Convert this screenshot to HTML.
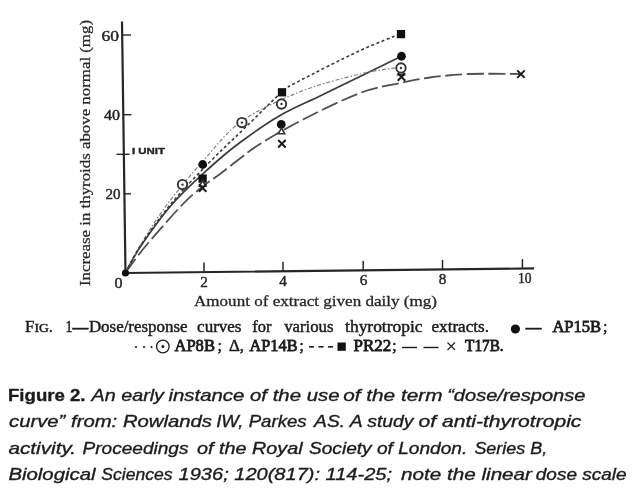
<!DOCTYPE html>
<html><head><meta charset="utf-8"><style>
html,body{margin:0;padding:0;background:#fff;width:640px;height:497px;overflow:hidden}
svg{display:block;filter:blur(0.7px)}
</style></head><body>
<svg width="640" height="497" viewBox="0 0 640 497">
<rect width="640" height="497" fill="#fff"/>
<g stroke="#262626" stroke-width="2.2" fill="none" stroke-linecap="butt">
<path d="M122,21.5 L125.5,273 L534,268.4"/>
<path d="M122.2,35L131,35" stroke-width="1.4"/>
<path d="M123.3,114.7L131.5,114.7" stroke-width="1.4"/>
<path d="M124.4,193.8L131,193.8" stroke-width="1.4"/>
<path d="M116.6,154.3L129.5,154.3" stroke-width="1.4"/>
<path d="M204,272.1L204,262.6" stroke-width="1.5"/>
<path d="M283,271.2L283,261.7" stroke-width="1.5"/>
<path d="M363.2,270.5L363.2,261.0" stroke-width="1.5"/>
<path d="M442.5,269.4L442.5,259.9" stroke-width="1.5"/>
<path d="M522.4,268.6L522.4,259.1" stroke-width="1.5"/>
</g>
<path d="M125.5,272.5 C129.0,267.9 137.1,256.2 146.5,245.0 C155.9,233.8 172.8,214.7 182.0,205.0 C191.2,195.3 195.7,192.2 202.0,187.0 C208.3,181.8 213.7,178.8 220.0,174.0 C226.3,169.2 233.3,163.5 240.0,158.5 C246.7,153.5 249.5,150.5 260.0,144.0 C270.5,137.5 286.3,128.0 303.0,119.5 C319.7,111.0 343.8,99.1 360.0,93.0 C376.2,86.9 388.3,85.6 400.0,83.0 C411.7,80.4 418.3,79.0 430.0,77.5 C441.7,76.0 454.8,74.6 470.0,74.0 C485.2,73.4 512.5,74.0 521.0,74.0" fill="none" stroke="#505050" stroke-width="1.8" stroke-dasharray="17 4.5"/>
<path d="M125.5,272.5 C128.2,267.9 133.8,256.2 141.5,245.0 C149.2,233.8 160.3,217.8 171.5,205.0 C182.7,192.2 197.4,178.9 208.8,168.5 C220.2,158.1 228.1,151.3 240.0,142.5 C251.9,133.7 266.7,123.2 280.0,115.5 C293.3,107.8 306.7,102.5 320.0,96.0 C333.3,89.5 346.4,83.1 360.0,76.5 C373.6,69.9 394.6,59.6 401.5,56.2" fill="none" stroke="#3a3a3a" stroke-width="1.7"/>
<path d="M125.5,272.5 C128.0,267.9 133.8,256.1 140.5,245.0 C147.2,233.9 155.4,220.2 166.0,206.0 C176.6,191.8 191.6,173.7 204.3,159.5 C217.0,145.3 226.1,132.3 242.0,121.0 C257.9,109.7 280.3,99.6 300.0,91.8 C319.7,84.0 343.2,78.1 360.0,74.0 C376.8,69.9 394.2,68.2 401.0,67.0" fill="none" stroke="#808080" stroke-width="1.2" stroke-dasharray="4 2 1.5 2"/>
<path d="M125.5,272.5 C128.1,267.9 133.6,256.2 141.0,245.0 C148.4,233.8 158.7,218.7 170.0,205.0 C181.3,191.3 196.2,175.9 208.8,163.0 C221.4,150.1 233.1,139.3 245.3,127.5 C257.5,115.7 272.9,99.8 282.0,92.0 C291.1,84.2 287.0,87.5 300.0,80.6 C313.0,73.7 343.2,58.4 360.0,50.6 C376.8,42.8 394.2,36.6 401.0,33.8" fill="none" stroke="#3a3a3a" stroke-width="1.6" stroke-dasharray="3 2.5"/>
<g fill="#111" stroke="none">
<circle cx="125.5" cy="273" r="3.6"/>
<circle cx="202.7" cy="164.5" r="4.4"/>
<circle cx="281.25" cy="124.4" r="4.4"/>
<circle cx="401.5" cy="56.25" r="4.4"/>
<rect x="198.45" y="174.45" width="8.3" height="8.3"/>
<rect x="277.85" y="88.14999999999999" width="8.3" height="8.3"/>
<rect x="396.85" y="29.950000000000003" width="8.3" height="8.3"/>
</g>
<path d="M281.5,128.1226L284.75,133.7516L278.25,133.7516Z" fill="#fff" stroke="#333" stroke-width="1.5"/>
<path d="M202.6,180.6226L205.85,186.2516L199.35,186.2516Z" fill="#fff" stroke="#333" stroke-width="1.5"/>
<path d="M401,69.1226L404.25,74.7516L397.75,74.7516Z" fill="#fff" stroke="#333" stroke-width="1.5"/>
<g stroke="#1a1a1a" stroke-width="2" fill="none">
<path d="M198.85,184.25L206.35,191.75M206.35,184.25L198.85,191.75" />
<path d="M278.15,140.0L285.65,147.5M285.65,140.0L278.15,147.5" />
<path d="M397.75,73.25L405.25,80.75M405.25,73.25L397.75,80.75" />
<path d="M517.25,70.35L524.75,77.85M524.75,70.35L517.25,77.85" />
</g>
<circle cx="182.5" cy="184.6" r="4.7" fill="#fff" stroke="#333" stroke-width="1.9"/><circle cx="182.5" cy="184.6" r="1.2" fill="#333"/>
<circle cx="241.9" cy="122.6" r="4.7" fill="#fff" stroke="#333" stroke-width="1.9"/><circle cx="241.9" cy="122.6" r="1.2" fill="#333"/>
<circle cx="281.5" cy="104" r="4.7" fill="#fff" stroke="#333" stroke-width="1.9"/><circle cx="281.5" cy="104" r="1.2" fill="#333"/>
<circle cx="401" cy="68" r="4.7" fill="#fff" stroke="#333" stroke-width="1.9"/><circle cx="401" cy="68" r="1.2" fill="#333"/>
<g font-family="Liberation Serif" font-size="15.5" fill="#262626" stroke="#262626" stroke-width="0.45">
<text x="101.5" y="40.5" textLength="17.5" lengthAdjust="spacingAndGlyphs">60</text>
<text x="104" y="120" textLength="16" lengthAdjust="spacingAndGlyphs">40</text>
<text x="105.5" y="198.7" textLength="15" lengthAdjust="spacingAndGlyphs">20</text>
<text x="114.5" y="288" textLength="8" lengthAdjust="spacingAndGlyphs">0</text>
<text x="200.3" y="287" textLength="7.6" lengthAdjust="spacingAndGlyphs">2</text>
<text x="279.3" y="286" textLength="7.6" lengthAdjust="spacingAndGlyphs">4</text>
<text x="359.7" y="284.5" textLength="7.6" lengthAdjust="spacingAndGlyphs">6</text>
<text x="438.8" y="283.5" textLength="7.6" lengthAdjust="spacingAndGlyphs">8</text>
<text x="518" y="283" textLength="13.5" lengthAdjust="spacingAndGlyphs">10</text>
<text x="194" y="305.5" textLength="243" lengthAdjust="spacingAndGlyphs" stroke-width="0.3">Amount of extract given daily (mg)</text>
<text transform="translate(90,286) rotate(-90)" x="0" y="0" textLength="266" lengthAdjust="spacingAndGlyphs" font-size="15" stroke-width="0.25">Increase in thyroids above normal (mg)</text>
</g>
<text x="132" y="153.8" font-family="Liberation Sans" font-weight="bold" font-size="9.5" fill="#262626" stroke="#262626" stroke-width="0.4" textLength="33" lengthAdjust="spacingAndGlyphs">I UNIT</text>
<g font-family="Liberation Serif" font-size="16" fill="#1c1c1c" stroke="#1c1c1c" stroke-width="0.45">
<text x="25.1" y="332.2" textLength="27.9" lengthAdjust="spacingAndGlyphs">F<tspan font-size="13">IG</tspan>.</text>
<text x="65.5" y="332.2" textLength="7.0" lengthAdjust="spacingAndGlyphs">1</text>
<rect x="72.5" y="328" width="16" height="1.3"/>
<text x="88.9" y="332.2" textLength="98.6" lengthAdjust="spacingAndGlyphs">Dose/response</text>
<text x="197.1" y="332.2" textLength="44.4" lengthAdjust="spacingAndGlyphs">curves</text>
<text x="252.3" y="332.2" textLength="19.2" lengthAdjust="spacingAndGlyphs">for</text>
<text x="284.2" y="332.2" textLength="49.3" lengthAdjust="spacingAndGlyphs">various</text>
<text x="345.1" y="332.2" textLength="77.4" lengthAdjust="spacingAndGlyphs">thyrotropic</text>
<text x="431.5" y="332.2" textLength="57.5" lengthAdjust="spacingAndGlyphs">extracts.</text>
<circle cx="515.4" cy="329" r="4.6" stroke="none" fill="#111"/>
<rect x="525.7" y="328" width="16" height="1.3"/>
<text x="552.4" y="332.2" textLength="48.7" lengthAdjust="spacingAndGlyphs" stroke-width="0.8">AP15B</text>
<text x="603.0" y="332.2" textLength="4.5" lengthAdjust="spacingAndGlyphs">;</text>
<circle cx="136" cy="347" r="1.1" stroke="none"/>
<circle cx="144" cy="347" r="1.1" stroke="none"/>
<circle cx="151.5" cy="347" r="1.1" stroke="none"/>
<circle cx="162.85" cy="346.5" r="6.3" fill="none" stroke-width="1.3"/><circle cx="162.85" cy="346.5" r="1.5" stroke="none"/>
<text x="174.5" y="351" textLength="40.4" lengthAdjust="spacingAndGlyphs" stroke-width="0.8">AP8B</text>
<text x="217.5" y="351" textLength="4.5" lengthAdjust="spacingAndGlyphs">;</text>
<text x="228.9" y="351" textLength="15.1" lengthAdjust="spacingAndGlyphs">Δ,</text>
<text x="249.5" y="351" textLength="48.0" lengthAdjust="spacingAndGlyphs" stroke-width="0.8">AP14B</text>
<text x="299.2" y="351" textLength="4.8" lengthAdjust="spacingAndGlyphs">;</text>
<rect x="309" y="346" width="5" height="1.6" stroke="none"/>
<rect x="318.5" y="346" width="5" height="1.6" stroke="none"/>
<rect x="328" y="346" width="5" height="1.6" stroke="none"/>
<rect x="337.5" y="342.5" width="8.3" height="8.3" stroke="none" fill="#111"/>
<text x="353.5" y="351" textLength="37.7" lengthAdjust="spacingAndGlyphs" stroke-width="0.8">PR22</text>
<text x="392.0" y="351" textLength="4.8" lengthAdjust="spacingAndGlyphs">;</text>
<rect x="402" y="346.8" width="15" height="1.4" stroke="none"/><rect x="423.5" y="346.8" width="15" height="1.4" stroke="none"/>
<path d="M447.5,342.5L455,350M455,342.5L447.5,350" stroke-width="1.1" fill="none"/>
<text x="465.1" y="351" textLength="38.6" lengthAdjust="spacingAndGlyphs" stroke-width="0.8">T17B.</text>
</g>
<g font-family="Liberation Sans" font-size="17" font-style="italic" fill="#1c1c1c" stroke="#1c1c1c" stroke-width="0.35">
<text x="8" y="400.6" textLength="77.5" lengthAdjust="spacingAndGlyphs" font-weight="bold" font-style="normal">Figure 2.</text>
<text x="91.5" y="400.6" textLength="72.5" lengthAdjust="spacingAndGlyphs">An early</text>
<text x="168.5" y="400.6" textLength="171.0" lengthAdjust="spacingAndGlyphs">instance of the use</text>
<text x="343.2" y="400.6" textLength="99.3" lengthAdjust="spacingAndGlyphs">of the term</text>
<text x="447.2" y="400.6" textLength="138.2" lengthAdjust="spacingAndGlyphs">“dose/response</text>
<text x="9" y="426.6" textLength="203.0" lengthAdjust="spacingAndGlyphs">curve” from: Rowlands</text>
<text x="216.2" y="426.6" textLength="90.5" lengthAdjust="spacingAndGlyphs">IW, Parkes</text>
<text x="314" y="426.6" textLength="99.5" lengthAdjust="spacingAndGlyphs">AS. A study</text>
<text x="418.5" y="426.6" textLength="162.9" lengthAdjust="spacingAndGlyphs">of anti-thyrotropic</text>
<text x="8.4" y="453.6" textLength="67.6" lengthAdjust="spacingAndGlyphs">activity.</text>
<text x="82.5" y="453.6" textLength="106.0" lengthAdjust="spacingAndGlyphs">Proceedings</text>
<text x="197" y="453.6" textLength="105.7" lengthAdjust="spacingAndGlyphs">of the Royal</text>
<text x="309" y="453.6" textLength="158.3" lengthAdjust="spacingAndGlyphs">Society of London.</text>
<text x="474.4" y="453.6" textLength="72.8" lengthAdjust="spacingAndGlyphs">Series B,</text>
<text x="8.4" y="480.1" textLength="87.1" lengthAdjust="spacingAndGlyphs">Biological</text>
<text x="101.3" y="480.1" textLength="71.2" lengthAdjust="spacingAndGlyphs">Sciences</text>
<text x="178.6" y="480.1" textLength="213.4" lengthAdjust="spacingAndGlyphs">1936; 120(817): 114-25;</text>
<text x="401" y="480.1" textLength="131.0" lengthAdjust="spacingAndGlyphs">note the linear</text>
<text x="535.8" y="480.1" textLength="90.7" lengthAdjust="spacingAndGlyphs">dose scale</text>
</g>
</svg></body></html>
